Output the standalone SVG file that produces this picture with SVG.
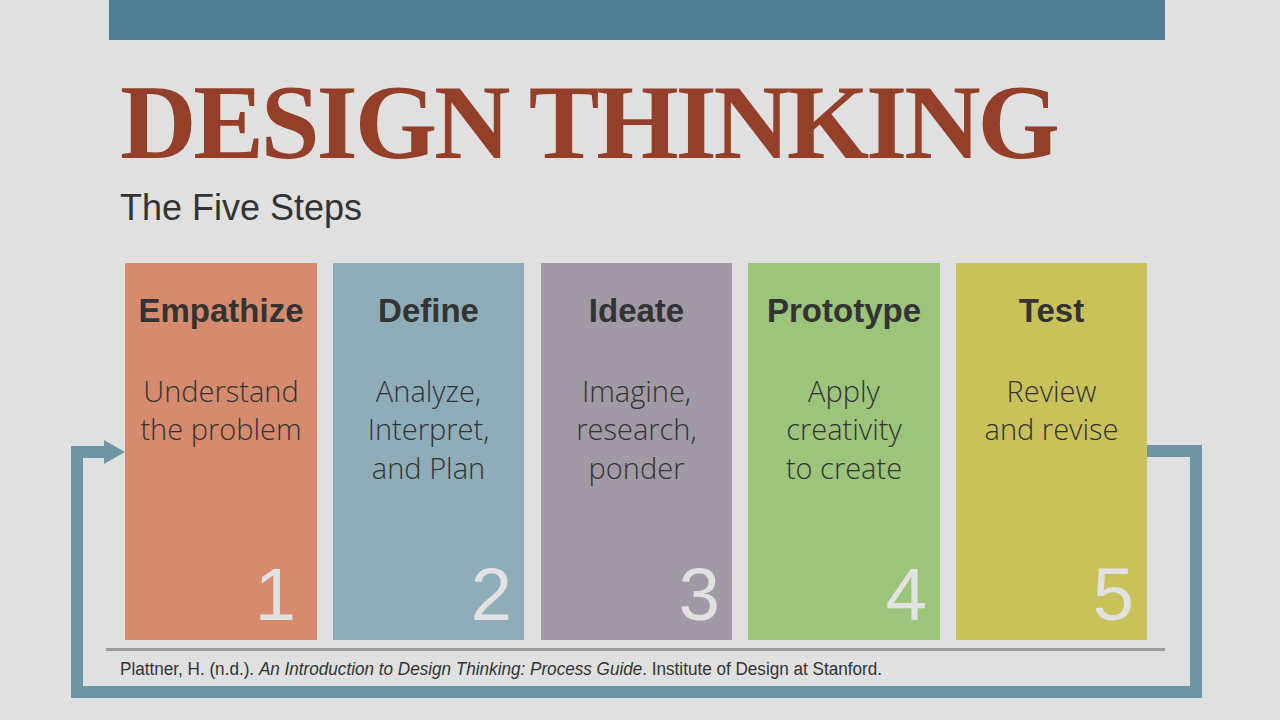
<svg xmlns="http://www.w3.org/2000/svg" width="1280" height="720" viewBox="0 0 1280 720">
<defs>
<style>
.bg{fill:#e0e0e0}
.title{font-family:"Liberation Serif","Times New Roman",serif;font-weight:bold;font-size:106px;fill:#933f2a}
.sub{font-family:"Liberation Sans",Arial,sans-serif;font-size:36px;fill:#333}
.head{font-family:"Liberation Sans",Arial,sans-serif;font-weight:bold;font-size:33px;fill:#333;text-anchor:middle}
.desc{font-family:"Open Sans","Liberation Sans",Arial,sans-serif;font-weight:350;font-size:29px;fill:#333;text-anchor:middle}
.num{font-family:"Liberation Sans",Arial,sans-serif;font-size:74px;fill:#e2e2e2;text-anchor:end}
.cite{font-family:"Liberation Sans",Arial,sans-serif;font-size:18px;fill:#333}
.loop{fill:none;stroke:#6e95a3;stroke-width:12;stroke-linejoin:miter}
</style>
</defs>
<rect class="bg" x="0" y="0" width="1280" height="720"/>
<rect x="109" y="0" width="1056" height="40" fill="#4f7f92"/>
<text class="title" x="120" y="158" textLength="940" lengthAdjust="spacing">DESIGN THINKING</text>
<text class="sub" x="120" y="220">The Five Steps</text>
<g id="connectors">
<path class="loop" d="M1147,451 H1196 V692 H77 V452 H106"/>
<polygon points="104,440 125,452 104,464" fill="#6e95a3"/>
</g>
<g id="empathize">
<rect x="125" y="263" width="192" height="377" fill="#d68b6e"/>
<text class="head" x="221" y="322">Empathize</text>
<text class="desc" x="221" y="402">Understand</text>
<text class="desc" x="221" y="440">the problem</text>
<text class="num" x="296" y="620">1</text>
</g>
<g id="define">
<rect x="333" y="263" width="191" height="377" fill="#8fadb8"/>
<text class="head" x="428.5" y="322">Define</text>
<text class="desc" x="428.5" y="402">Analyze,</text>
<text class="desc" x="428.5" y="440">Interpret,</text>
<text class="desc" x="428.5" y="479">and Plan</text>
<text class="num" x="512" y="620">2</text>
</g>
<g id="ideate">
<rect x="541" y="263" width="191" height="377" fill="#a19aa6"/>
<text class="head" x="636.5" y="322">Ideate</text>
<text class="desc" x="636.5" y="402">Imagine,</text>
<text class="desc" x="636.5" y="440">research,</text>
<text class="desc" x="636.5" y="479">ponder</text>
<text class="num" x="720" y="620">3</text>
</g>
<g id="prototype">
<rect x="748" y="263" width="192" height="377" fill="#9cc47a"/>
<text class="head" x="844" y="322">Prototype</text>
<text class="desc" x="844" y="402">Apply</text>
<text class="desc" x="844" y="440">creativity</text>
<text class="desc" x="844" y="479">to create</text>
<text class="num" x="927" y="620">4</text>
</g>
<g id="test">
<rect x="956" y="263" width="191" height="377" fill="#c9c25b"/>
<text class="head" x="1051.5" y="322">Test</text>
<text class="desc" x="1051.5" y="402">Review</text>
<text class="desc" x="1051.5" y="440">and revise</text>
<text class="num" x="1134" y="620">5</text>
</g>
<rect x="106" y="648" width="1059" height="3" fill="#9a9a9a"/>
<text class="cite" x="120" y="675" textLength="762" lengthAdjust="spacingAndGlyphs">Plattner, H. (n.d.). <tspan font-style="italic">An Introduction to Design Thinking: Process Guide</tspan>. Institute of Design at Stanford.</text>
</svg>
